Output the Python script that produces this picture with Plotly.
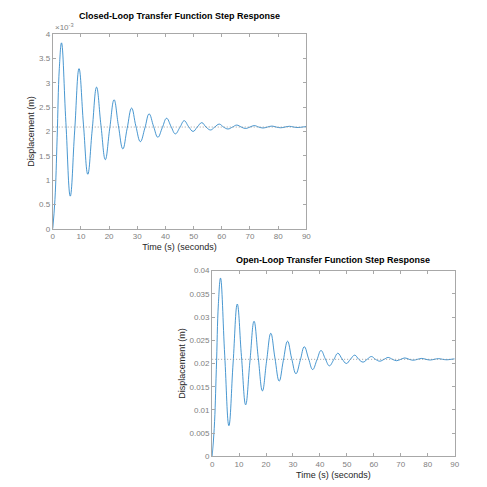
import plotly.graph_objects as go

# Step response (quarter-period samples)
time_s = [0, 0.78, 1.56, 2.33, 3.11, 4.67, 6.22, 7.78, 9.33, 10.89, 12.44, 14.0,
          15.55, 17.1, 18.66, 20.2, 21.77, 23.3, 24.88, 26.4, 27.99, 29.5, 31.1,
          32.7, 34.2, 35.8, 37.3, 38.9, 40.4, 42.0, 43.5, 45.1, 46.65, 48.2, 49.8,
          51.3, 52.9, 54.4, 56.0, 57.5, 59.1, 60.6, 62.2, 63.8, 65.3, 66.9, 68.4,
          70.0, 71.5, 73.1, 74.6, 76.2, 77.8, 79.3, 80.9, 82.4, 84.0, 85.5, 87.1,
          88.6, 90.0]

# closed loop, in units of 1e-3 m
closed_disp = [0, 0.60, 1.87, 3.29, 3.82, 2.18, 0.67, 2.01, 3.29, 2.15, 1.12, 2.03,
               2.91, 2.13, 1.42, 2.05, 2.65, 2.12, 1.64, 2.06, 2.48, 2.11, 1.79,
               2.07, 2.36, 2.10, 1.88, 2.08, 2.27, 2.10, 1.95, 2.08, 2.22, 2.10, 2.00,
               2.09, 2.18, 2.09, 2.03, 2.09, 2.15, 2.09, 2.05, 2.09, 2.13, 2.09, 2.06,
               2.09, 2.12, 2.09, 2.07, 2.09, 2.11, 2.09, 2.075, 2.09, 2.105, 2.09, 2.08,
               2.09, 2.10]
closed_final = 2.09

# open loop, in m
open_disp = [0, 0.0060, 0.0187, 0.0329, 0.0384, 0.0218, 0.0066, 0.0201, 0.0328, 0.0215,
             0.0111, 0.0203, 0.0291, 0.0213, 0.0141, 0.0205, 0.0265, 0.0212, 0.0162,
             0.0206, 0.0248, 0.0211, 0.0178, 0.0207, 0.0236, 0.0210, 0.0187, 0.0208,
             0.0228, 0.0210, 0.0195, 0.0208, 0.0222, 0.0210, 0.0200, 0.0209, 0.0218,
             0.0209, 0.0203, 0.0209, 0.0215, 0.0209, 0.0205, 0.0209, 0.0213, 0.0209,
             0.0206, 0.0209, 0.0212, 0.0209, 0.0207, 0.0209, 0.0211, 0.0209, 0.02075,
             0.0209, 0.02105, 0.0209, 0.0208, 0.0209, 0.0210]
open_final = 0.0209

x_ticks = [0, 10, 20, 30, 40, 50, 60, 70, 80, 90]
closed_ticks = [0, 0.5, 1, 1.5, 2, 2.5, 3, 3.5, 4]
closed_tick_text = ["0", "0.5", "1", "1.5", "2", "2.5", "3", "3.5", "4"]
open_ticks = [0, 0.005, 0.01, 0.015, 0.02, 0.025, 0.03, 0.035, 0.04]
open_tick_text = ["0", "0.005", "0.01", "0.015", "0.02", "0.025", "0.03", "0.035", "0.04"]

# the page has a body margin and the shot comes out slightly scaled,
# so target pixel positions are mapped back into figure coordinates
PAD = 8
SCALE = 0.983
W = H = 479
FONT = "Liberation Sans, Arial, Helvetica, sans-serif"
LINE_BLUE = "#1a7cc4"
AXIS_GRAY = "#a8a8a8"
TICK_GRAY = "#808080"


def fx(px):
    return ((px - 1.5) / SCALE - PAD) / W


def fy(py):
    return 1 - ((py - 3) / SCALE - PAD) / H


fig = go.Figure()

fig.add_trace(go.Scatter(x=time_s, y=closed_disp, mode="lines", line_shape="spline",
                         line=dict(color=LINE_BLUE, width=0.8, smoothing=1.2),
                         xaxis="x", yaxis="y", showlegend=False))
fig.add_trace(go.Scatter(x=[0, 90], y=[closed_final, closed_final], mode="lines",
                         line=dict(color="#8a8a8a", width=0.8, dash="1px,2px"),
                         xaxis="x", yaxis="y", showlegend=False))
fig.add_trace(go.Scatter(x=time_s, y=open_disp, mode="lines", line_shape="spline",
                         line=dict(color=LINE_BLUE, width=0.8, smoothing=1.2),
                         xaxis="x2", yaxis="y2", showlegend=False))
fig.add_trace(go.Scatter(x=[0, 90], y=[open_final, open_final], mode="lines",
                         line=dict(color="#8a8a8a", width=0.8, dash="1px,2px"),
                         xaxis="x2", yaxis="y2", showlegend=False))

axis_style = dict(showline=True, linecolor=AXIS_GRAY, linewidth=1, mirror="allticks",
                  ticks="inside", ticklen=3, tickcolor=AXIS_GRAY, showgrid=False,
                  zeroline=False, tickfont=dict(family=FONT, size=8, color=TICK_GRAY))

# pixel boxes of the two axes in the reference (left, right, top, bottom)
top_box = (52, 305, 33, 228)
bot_box = (211, 453, 270, 456)

xtitle = dict(text="Time (s) (seconds)", font=dict(family=FONT, size=9, color="#262626"),
              standoff=3)
ytitle = dict(text="Displacement (m)", font=dict(family=FONT, size=9, color="#262626"),
              standoff=2)

fig.update_layout(
    width=W, height=H,
    margin=dict(l=0, r=0, t=0, b=0),
    paper_bgcolor="white", plot_bgcolor="white",
    xaxis=dict(domain=[fx(top_box[0]), fx(top_box[1])], range=[0, 90], tickvals=x_ticks,
               title=xtitle, anchor="y", **axis_style),
    yaxis=dict(domain=[fy(top_box[3]), fy(top_box[2])], range=[0, 4],
               tickvals=closed_ticks, ticktext=closed_tick_text, title=ytitle,
               anchor="x", **axis_style),
    xaxis2=dict(domain=[fx(bot_box[0]), fx(bot_box[1])], range=[0, 90], tickvals=x_ticks,
                title=xtitle, anchor="y2", **axis_style),
    yaxis2=dict(domain=[fy(bot_box[3]), fy(bot_box[2])], range=[0, 0.04],
                tickvals=open_ticks, ticktext=open_tick_text, title=ytitle,
                anchor="x2", **axis_style),
    annotations=[
        dict(text="<b>Closed-Loop Transfer Function Step Response</b>", xref="paper",
             yref="paper", x=fx((top_box[0] + top_box[1]) / 2), y=fy(15),
             xanchor="center", yanchor="middle",
             showarrow=False, font=dict(family=FONT, size=9, color="black")),
        dict(text="<b>Open-Loop Transfer Function Step Response</b>", xref="paper",
             yref="paper", x=fx((bot_box[0] + bot_box[1]) / 2), y=fy(259),
             xanchor="center", yanchor="middle",
             showarrow=False, font=dict(family=FONT, size=9, color="black")),
        dict(text="\u00d710<sup>-3</sup>", xref="paper", yref="paper",
             x=fx(top_box[0]), y=fy(top_box[2]), xanchor="left", yanchor="bottom",
             showarrow=False, font=dict(family=FONT, size=8, color=TICK_GRAY)),
    ],
)

fig.write_html("out.html")
